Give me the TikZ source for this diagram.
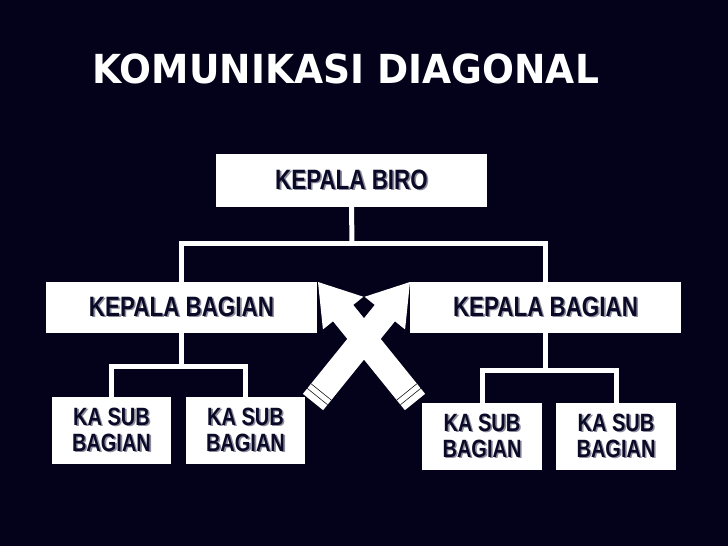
\documentclass[tikz,border=0pt]{standalone}
\usepackage{fontspec}
\usetikzlibrary{calc}
\newfontfamily\titlefont[FakeStretch=0.94]{DejaVu Sans}
\newfontfamily\boxfont[FakeStretch=0.8]{Liberation Sans}
\definecolor{bg}{RGB}{3,2,26}
\definecolor{ink}{RGB}{10,10,40}
\definecolor{shade}{RGB}{140,140,155}
\newcommand\shd[1]{\makebox[0pt][l]{\raisebox{-1.6pt}{\hspace{1.6pt}\textcolor{shade}{#1}}}#1}
\newcommand\blockarrow[2]{%
  \coordinate (N) at ($(#2)!40pt!(#1)$);
  \fill[white] ($(#1)!13pt!90:(#2)$) -- ($(N)!13pt!-90:(#1)$) -- ($(N)!26pt!-90:(#1)$) -- (#2)
     -- ($(N)!26pt!90:(#1)$) -- ($(N)!13pt!90:(#1)$) -- ($(#1)!13pt!-90:(#2)$) -- cycle;
  \coordinate (S1) at ($(#1)!7pt!(#2)$);
  \coordinate (S2) at ($(#1)!13pt!(#2)$);
  \draw[shade,line width=0.5pt] ($(S1)!13pt!90:(#2)$) -- ($(S1)!13pt!-90:(#2)$);
  \draw[shade,line width=0.5pt] ($(S2)!13pt!90:(#2)$) -- ($(S2)!13pt!-90:(#2)$);
}
\begin{document}
\begin{tikzpicture}[x=1pt,y=-1pt,
  box/.style={fill=white,draw=none,inner sep=0pt,align=center,text=ink,
    font=\boxfont\bfseries\fontsize{28}{30}\selectfont},
  subbox/.style={box,minimum width=119pt,minimum height=67pt,
    font=\boxfont\bfseries\fontsize{25}{26}\selectfont},
  bigbox/.style={box,minimum width=271pt},
  wire/.style={white,line width=5pt,line join=miter}]
\fill[bg] (0,0) rectangle (728,546);
\useasboundingbox (0,0) rectangle (728,546);
\node[anchor=base west,text=white,inner sep=0pt,
  font=\titlefont\bfseries\fontsize{40}{44}\selectfont] (title) at (92,83) {KOMUNIKASI DIAGONAL};
% connectors
\coordinate (j0) at (352,243);
\coordinate (j1) at (181.5,366);
\coordinate (j2) at (545.5,370);
\node[bigbox,minimum height=53pt] (biro) at (351.5,180.5) {\shd{KEPALA BIRO}};
\node[bigbox,minimum height=51pt] (bagL) at (181.5,307.5) {\shd{KEPALA BAGIAN}};
\node[bigbox,minimum height=51pt] (bagR) at (545.5,307.5) {\shd{KEPALA BAGIAN}};
\node[subbox] (subL1) at (111.5,430.5) {\shd{KA SUB}\\\shd{BAGIAN}};
\node[subbox] (subL2) at (245.5,430.5) {\shd{KA SUB}\\\shd{BAGIAN}};
\node[subbox,minimum width=120pt] (subR1) at (482,436.5) {\shd{KA SUB}\\\shd{BAGIAN}};
\node[subbox,minimum width=120pt] (subR2) at (616,436.5) {\shd{KA SUB}\\\shd{BAGIAN}};
\draw[wire] (biro.south) -- (j0);
\draw[wire] (bagL.north) |- (j0) -| (bagR.north);
\draw[wire] (bagL.south) -- (j1);
\draw[wire] (subL1.north) |- (j1) -| (subL2.north);
\draw[wire] (bagR.south) -- (j2);
\draw[wire] (subR1.north) |- (j2) -| (subR2.north);
% diagonal arrows
\coordinate (tA) at (415,402);
\coordinate (hA) at (318,282);
\coordinate (tB) at (313,402);
\coordinate (hB) at (410,282);
\blockarrow{tA}{hA}
\blockarrow{tB}{hB}
\end{tikzpicture}
\end{document}
